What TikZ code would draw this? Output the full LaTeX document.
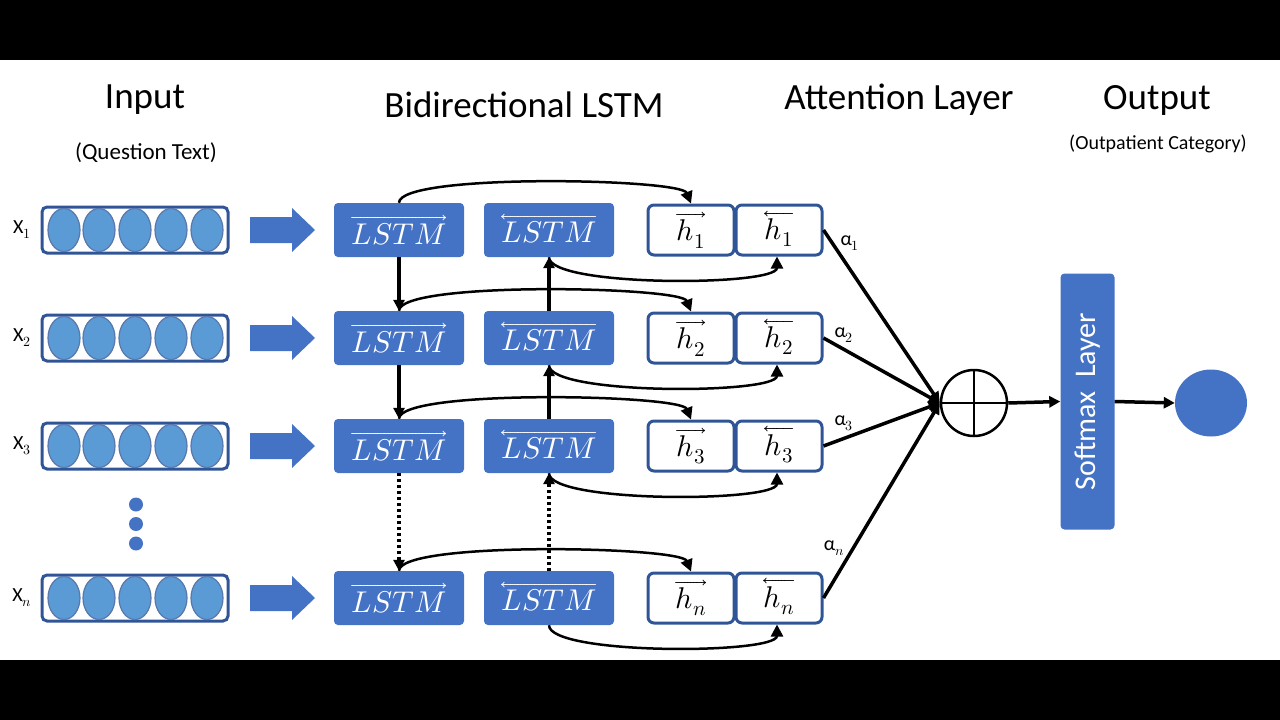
\documentclass[tikz,border=0pt]{standalone}
\usepackage{fontspec}
\setmainfont{Carlito}
\usepackage{unicode-math}
\setmathfont{Latin Modern Math}
\usetikzlibrary{arrows.meta,shapes.geometric}
\definecolor{pblue}{HTML}{4472C4}
\definecolor{eblue}{HTML}{5B9BD5}
\definecolor{dblue}{HTML}{2F5597}
\begin{document}
\begin{tikzpicture}[x=1pt,y=-1pt,
 lstm/.style={draw=none,fill=pblue,rounded corners=4pt,minimum width=130pt,minimum height=54pt,text=white,font=\fontsize{30}{32}\selectfont},
 hb/.style={draw=dblue,line width=3pt,fill=white,rounded corners=6pt,minimum width=86pt,minimum height=50pt,font=\fontsize{30}{32}\selectfont},
 inbox/.style={draw=dblue,line width=3pt,rounded corners=5pt,minimum width=186pt,minimum height=46pt},
 ell/.style={ellipse,draw=dblue!80,line width=1.2pt,fill=eblue,minimum width=32pt,minimum height=43pt,inner sep=0},
 title/.style={font=\fontsize{37}{40}\selectfont},
 arr/.style={-{Triangle[length=11pt,width=11pt]},line width=3.2pt},
 darr/.style={-{Triangle[length=11pt,width=11pt]},line width=3.2pt,dash pattern=on 3pt off 3pt},
 arc/.style={-{Triangle[length=12pt,width=12pt]},line width=2.5pt},
 lab/.style={font=\fontsize{20}{22}\selectfont}]
\useasboundingbox (0,0) rectangle (1280,720);
\fill[black] (0,0) rectangle (1280,60);
\fill[black] (0,660) rectangle (1280,720);
\node[title] (t1) at (145,100) {Input};
\node[font=\fontsize{23}{25}\selectfont] (t1b) at (146,153) {(Question Text)};
\node[title] (t2) at (524,105) {Bidirectional LSTM};
\node[title] (t3) at (899,100) {Attention Layer};
\node[title] (t4) at (1157,100) {Output};
\node[font=\fontsize{20}{22}\selectfont] (t4b) at (1158,144) {(Outpatient Category)};
\foreach \i/\y/\s in {1/230/1,2/338/2,3/446/3,n/598/n}{
 \node[lab] (x\i) at (22,\y) {X$_{\s}$};
 \node[inbox] (in\i) at (135,\y) {};
 \foreach \k/\cx in {1/64,2/99,3/135,4/171,5/207}{\node[ell] (e\i\k) at (\cx,\y) {};}
 \fill[pblue] (250,\y-13) -- (292,\y-13) -- (292,\y-22) -- (315,\y) -- (292,\y+22) -- (292,\y+13) -- (250,\y+13) -- cycle;
 \node[lstm] (f\i) at (399,\y) {$\overrightarrow{LSTM}$};
 \node[lstm] (b\i) at (549,\y) {$\overleftarrow{LSTM}$};
 \node[hb] (hf\i) at (691,\y) {$\overrightarrow{h_{\s}}$};
 \node[hb] (hr\i) at (779,\y) {$\overleftarrow{h_{\s}}$};
 \draw[arc] (f\i.north) .. controls +(0,-30) and +(-10,-25) .. (hf\i.north);
 \draw[arc] (b\i.south) .. controls +(0,30) and +(0,30) .. ([xshift=-2pt]hr\i.south);
}
\draw[arr] (f1) -- (f2);
\draw[arr] (f2) -- (f3);
\draw[darr] (f3) -- (fn);
\draw[arr] (b2) -- (b1);
\draw[arr] (b3) -- (b2);
\draw[darr] (bn) -- (b3);
\foreach \k in {1,2,3}{\fill[pblue] (136,{485+19.5*\k}) circle (7pt);}
\node[circle,draw,line width=2.5pt,minimum size=66pt,inner sep=0] (op) at (974,403) {};
\draw[line width=2.5pt] (op.north) -- (op.south) (op.west) -- (op.east);
\foreach \i in {1,2,3,n}{\draw[arr,line width=3.5pt] (hr\i.east) -- (op.west);}
\node[lab] (a1) at (850,243) {α$_1$};
\node[lab] (a2) at (844,335) {α$_2$};
\node[lab] (a3) at (844,423) {α$_3$};
\node[lab] (an) at (834,548) {α$_n$};
\node[fill=pblue,rounded corners=4pt,minimum width=54pt,minimum height=256pt,inner sep=0] (sm) at (1087.5,401.5) {};
\node[rotate=90,text=white,font=\fontsize{30}{32}\selectfont] (smt) at (1087.5,401.5) {Softmax\ \ Layer};
\node[ellipse,fill=pblue,minimum width=72pt,minimum height=67pt,inner sep=0] (out) at (1211,403) {};
\draw[arr,line width=3.5pt] (op.east) -- (sm.west);
\draw[arr,line width=3.5pt] (sm.east) -- (out.west);
\end{tikzpicture}
\end{document}
